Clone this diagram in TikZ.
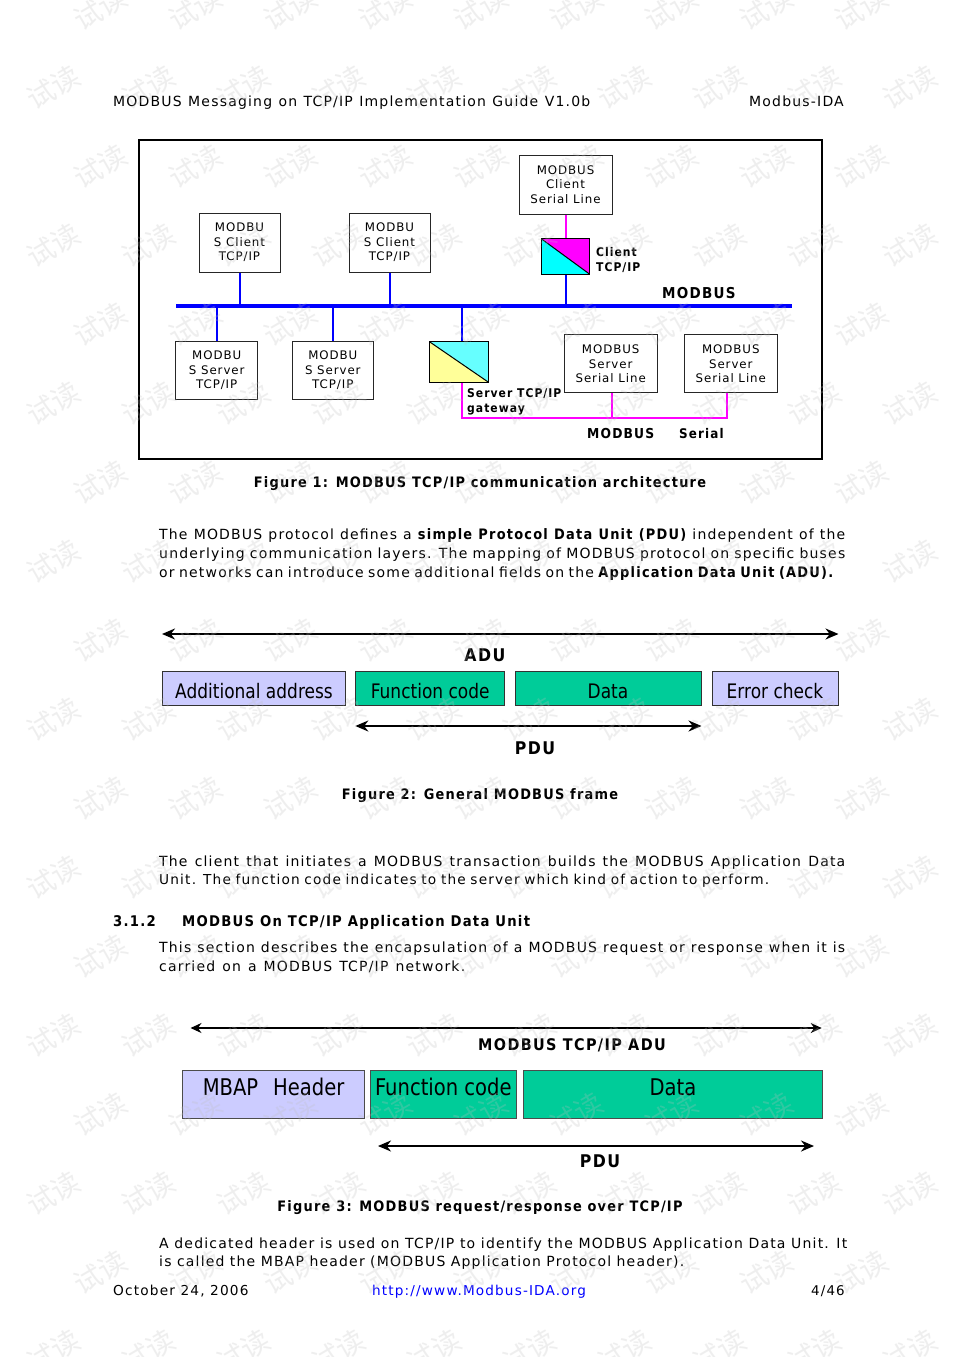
\documentclass[tikz,border=0pt]{standalone}
\usepackage{fontspec}
\usepackage{xcolor}
\usetikzlibrary{arrows.meta, positioning, calc}
\setmainfont{DejaVu Sans}[LetterSpace=8.5, BoldFeatures={FakeStretch=0.9}]
\newfontfamily\boxfont{DejaVu Sans}[LetterSpace=8]
\newfontfamily\framefont{DejaVu Sans}[FakeStretch=0.85]
\newfontfamily\cjk{Noto Sans CJK SC}
\definecolor{frameLav}{HTML}{CCCCFF}
\definecolor{frameGreen}{HTML}{00CC99}
\definecolor{busBlue}{HTML}{0000FF}
\definecolor{serialPink}{HTML}{FF00FF}
\definecolor{gateCyan}{HTML}{00FFFF}
\definecolor{gateSky}{HTML}{66FFFF}
\definecolor{gateYellow}{HTML}{FFFF99}
\definecolor{linkBlue}{HTML}{0000FF}
\newcommand{\bodyline}[2]{\makebox[#1pt][s]{#2}}
\newcommand{\bodybold}[1]{{\fontsize{14.4}{18}\selectfont\bfseries #1}}

\begin{document}
\begin{tikzpicture}[
  x=1pt, y=-1pt,
  txt/.style={anchor=base west, inner sep=0pt, font=\fontsize{14}{18}\selectfont},
  headline/.style={txt},
  captext/.style={anchor=base, inner sep=0pt, font=\fontsize{14.4}{18}\selectfont\bfseries},
  tag/.style={anchor=base west, inner sep=0pt, font=\fontsize{12}{15}\selectfont\bfseries},
  sizelabel/.style={anchor=base, inner sep=0pt, font=\fontsize{17.5}{21}\selectfont\bfseries},
  device/.style={draw=black!85, line width=1pt, fill=white, inner sep=0pt, align=center,
                 font=\boxfont\fontsize{11.8}{14.6}\selectfont},
  split/.style 2 args={draw=black, line width=1pt, inner sep=0pt, path picture={
      \fill[#1] (path picture bounding box.north west) -- (path picture bounding box.north east)
        -- (path picture bounding box.south east) -- cycle;
      \fill[#2] (path picture bounding box.north west) -- (path picture bounding box.south west)
        -- (path picture bounding box.south east) -- cycle;
      \draw[line width=1pt] (path picture bounding box.north west) -- (path picture bounding box.south east);}},
  field/.style={draw=black!80, line width=1pt, inner sep=0pt, minimum height=34.5pt,
                text height=27pt, text depth=7.5pt, font=\framefont\fontsize{20}{24}\selectfont},
  tallfield/.style={draw=black!70, line width=1pt, inner sep=0pt, minimum height=48pt,
                    text height=25pt, text depth=23.3pt, font=\framefont\fontsize{23}{26}\selectfont},
  bus/.style={draw=busBlue, line width=2pt},
  serial/.style={draw=serialPink, line width=2pt},
  span/.style={{Stealth[length=13pt,width=11pt]}-{Stealth[length=13pt,width=11pt]}, line width=2pt},
  thinspan/.style={{Stealth[length=11pt,width=10pt]}-{Stealth[length=11pt,width=10pt]}, line width=1.3pt},
  wmark/.style={text=black!25, text opacity=0.25, rotate=30, inner sep=0pt, font=\cjk\fontsize{28}{30}\selectfont}
]
\useasboundingbox (0,0) rectangle (960,1357);
\fill[white] (0,0) rectangle (960,1357);

\node[headline] (headL) at (113,106) {\bodyline{477}{MODBUS Messaging on TCP/IP Implementation Guide V1.0b}};
\node[headline] (headR) at (749,106) {Modbus-IDA};

\node[draw=black, line width=1.2pt, minimum width=683pt, minimum height=319pt, inner sep=0pt] (frameA) at (480.5,299.5) {};
\node[device, minimum width=81pt, minimum height=59pt] (clientA) at (239.5,242.5) {MODBU\\S Client\\TCP/IP};
\node[device, minimum width=81pt, minimum height=59pt] (clientB) at (389.5,242.5) {MODBU\\S Client\\TCP/IP};
\node[device, minimum width=93pt, minimum height=59pt] (clientSerial) at (565.5,184.5) {MODBUS\\Client\\Serial Line};
\node[split={serialPink}{gateCyan}, minimum width=48.5pt, minimum height=35.5pt] (clientGate) at (565.5,256.5) {};
\node[device, minimum width=81.5pt, minimum height=58.5pt] (serverA) at (216.7,370.5) {MODBU\\S Server\\TCP/IP};
\node[device, minimum width=81.5pt, minimum height=58.5pt] (serverB) at (332.8,370.5) {MODBU\\S Server\\TCP/IP};
\node[split={gateSky}{gateYellow}, minimum width=59pt, minimum height=40.5pt] (serverGate) at (459,362) {};
\node[device, minimum width=93pt, minimum height=58pt] (serialA) at (610.7,363.7) {MODBUS\\Server\\Serial Line};
\node[device, minimum width=93pt, minimum height=58pt] (serialB) at (730.8,363.7) {MODBUS\\Server\\Serial Line};

\coordinate (busLeft) at (176,306.3);
\coordinate (busRight) at (791.6,306.3);
\coordinate (gateTap) at (462,306.3);
\coordinate (serialJoin) at (612,417.7);
\coordinate (serialEnd) at (727,417.7);
\draw[bus, line width=4pt] (busLeft) -- (busRight);
\draw[bus] (clientA.south) -- (clientA.south |- busLeft);
\draw[bus] (clientB.south) -- (clientB.south |- busLeft);
\draw[bus] (clientGate.south) -- (clientGate.south |- busLeft);
\draw[serial] (clientSerial.south) -- (clientGate.north);
\draw[bus] (serverA.north) -- (serverA.north |- busLeft);
\draw[bus] (serverB.north) -- (serverB.north |- busLeft);
\draw[bus] (gateTap) -- (gateTap |- serverGate.north);
\draw[serial] (gateTap |- serverGate.south) -- (gateTap |- serialEnd) -- (serialEnd) -- (serialEnd |- serialB.south);
\draw[serial] (serialJoin) -- (serialJoin |- serialA.south);

\node[tag] (clientTag) at (596,256) {Client};
\node[tag] (clientTagB) at (596,271) {TCP/IP};
\node[tag, font=\fontsize{15}{18}\selectfont\bfseries] (busTag) at (662,298) {MODBUS};
\node[tag] (gateTag) at (467,397) {Server TCP/IP};
\node[tag] (gateTagB) at (467,412) {gateway};
\node[tag, font=\fontsize{13.7}{18}\selectfont\bfseries] (serialTag) at (587,438) {MODBUS};
\node[tag, font=\fontsize{13.3}{18}\selectfont\bfseries] (serialTagB) at (679,438) {Serial};
\node[captext] (capA) at (480,487) {Figure 1: MODBUS TCP/IP communication architecture};

\node[txt] (paraA) at (159,539) {\bodyline{686}{The MODBUS protocol defines a \bodybold{simple Protocol Data Unit (PDU)} independent of the}};
\node[txt] (paraB) at (159,558) {\bodyline{686}{underlying communication layers. The mapping of MODBUS protocol on specific buses}};
\node[txt] (paraC) at (159,577) {\bodyline{674}{or networks can introduce some additional fields on the \bodybold{Application Data Unit (ADU).}}};

\node[field, fill=frameLav, minimum width=183pt] (addr) at (254,688.3) {Additional address};
\node[field, fill=frameGreen, minimum width=148.7pt] (func) at (430.2,688.3) {Function code};
\node[field, fill=frameGreen, minimum width=186pt] (data) at (608,688.3) {Data\hspace{6pt}};
\node[field, fill=frameLav, minimum width=126pt] (err) at (775,688.3) {Error check};
\coordinate (aduLeft) at (addr.west |- 0,634);
\coordinate (aduRight) at (err.east |- 0,634);
\coordinate (pduLeft) at (func.west |- 0,726);
\coordinate (pduRight) at (data.east |- 0,726);
\draw[span] (aduLeft) -- (aduRight);
\draw[span] (pduLeft) -- (pduRight);
\node[sizelabel] (aduTag) at (485,661) {ADU};
\node[sizelabel] (pduTag) at (535,754) {PDU};
\node[captext] (capB) at (480,799) {Figure 2: General MODBUS frame};

\node[txt] (paraD) at (159,866) {\bodyline{686}{The client that initiates a MODBUS transaction builds the MODBUS Application Data}};
\node[txt, font=\fontsize{13.7}{18}\selectfont] (paraE) at (159,884) {\bodyline{610}{Unit. The function code indicates to the server which kind of action to perform.}};
\node[txt, font=\fontsize{14.7}{18}\selectfont\bfseries] (secNum) at (113,926) {3.1.2};
\node[txt, font=\fontsize{14.7}{18}\selectfont\bfseries] (secName) at (182,926) {MODBUS On TCP/IP Application Data Unit};
\node[txt] (paraF) at (159,952) {\bodyline{686}{This section describes the encapsulation of a MODBUS request or response when it is}};
\node[txt] (paraG) at (159,971) {\bodyline{306}{carried on a MODBUS TCP/IP network.}};

\node[tallfield, fill=frameLav, minimum width=181.5pt] (mbap) at (273.6,1094.2) {MBAP\hspace{15pt}Header};
\node[tallfield, fill=frameGreen, minimum width=146.6pt] (funcB) at (443.3,1094.2) {Function code};
\node[tallfield, fill=frameGreen, minimum width=299pt] (dataB) at (673,1094.2) {Data};
\coordinate (adutLeft) at (190.5,1028);
\coordinate (adutRight) at (821.7,1028);
\coordinate (pdutLeft) at (378,1146);
\coordinate (pdutRight) at (814,1146);
\draw[thinspan] (adutLeft) -- (adutRight);
\draw[span] (pdutLeft) -- (pdutRight);
\node[sizelabel, font=\fontsize{16}{21}\selectfont\bfseries] (adutTag) at (572,1050) {MODBUS TCP/IP ADU};
\node[sizelabel] (pdutTag) at (600,1167) {PDU};
\node[captext] (capC) at (480,1211) {Figure 3: MODBUS request/response over TCP/IP};

\node[txt] (paraH) at (159,1248) {\bodyline{688}{A dedicated header is used on TCP/IP to identify the MODBUS Application Data Unit. It}};
\node[txt] (paraI) at (159,1266) {\bodyline{525}{is called the MBAP header (MODBUS Application Protocol header).}};

\node[txt, font=\fontsize{13.7}{18}\selectfont] (footDate) at (113,1295) {October 24, 2006};
\node[txt, font=\fontsize{13.6}{18}\selectfont, text=linkBlue] (footLink) at (372,1295) {http://www.Modbus-IDA.org};
\node[txt, font=\fontsize{13.4}{18}\selectfont] (footPage) at (811,1295) {4/46};

\foreach \r in {0,2,...,16}{
  \foreach \c in {0,...,8}{
    \node[wmark] (wm-\r-\c) at (100+95.2*\c,8+79*\r) {试读};
  }
}
\foreach \r in {1,3,...,17}{
  \foreach \c in {0,...,9}{
    \node[wmark] (wm-\r-\c) at (53+95.2*\c,8+79*\r) {试读};
  }
}
\end{tikzpicture}
\end{document}
